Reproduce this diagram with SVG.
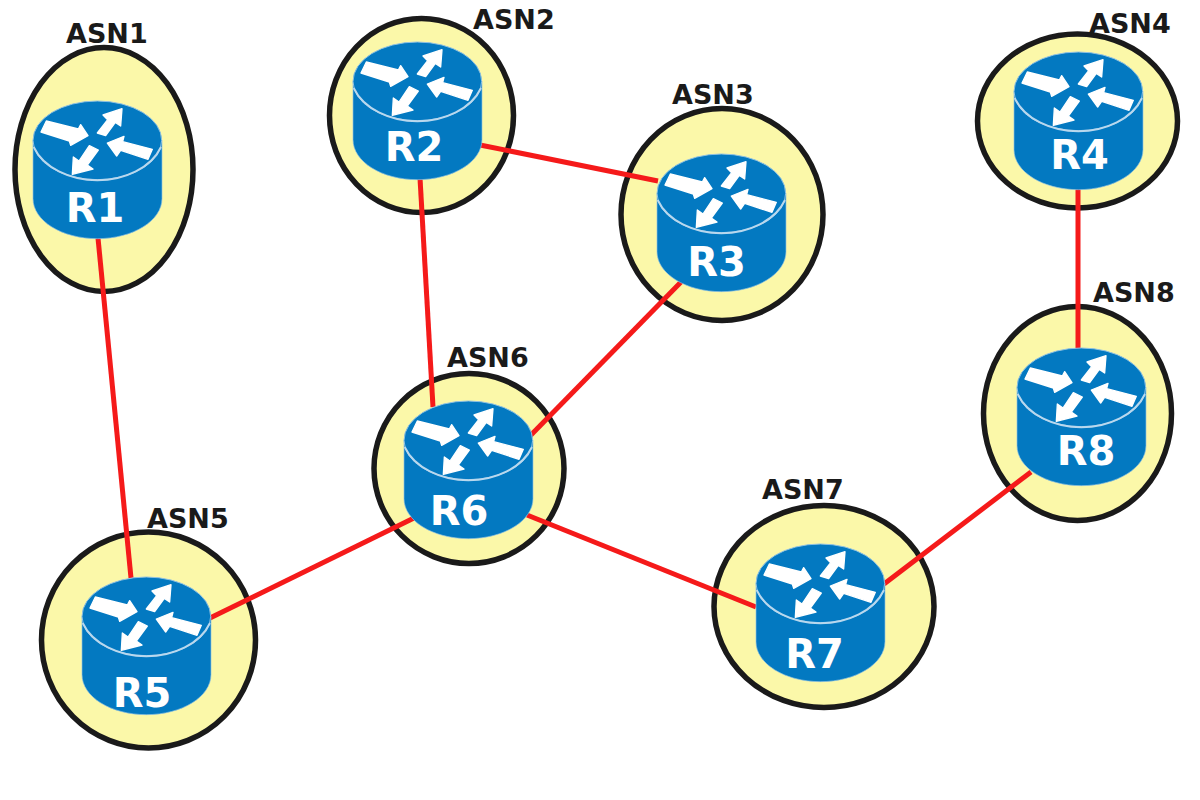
<svg xmlns="http://www.w3.org/2000/svg" xmlns:xlink="http://www.w3.org/1999/xlink" width="1200" height="800" viewBox="0 0 1200 800">
<style>
.as{fill:#fbf8a9;stroke:#1a1a1a;stroke-width:5.500}
.link{stroke:#f51a1a;stroke-width:5;fill:none}
.asn{font-family:"DejaVu Sans",sans-serif;font-weight:bold;font-size:27px;fill:#1a1a1a}
.r{font-family:"DejaVu Sans",sans-serif;font-weight:bold;font-size:40px;fill:#fff;text-anchor:middle}
</style>
<defs>
<g id="router" transform="scale(.33333) translate(-69,-62)">
<path d="M69 180V355C69 421 155 475 262 475S456 421 456 355V180Z" fill="#0379c1" stroke="#8fc1e2" stroke-width="2"/>
<ellipse cx="262" cy="180" rx="193" ry="118" fill="#0379c1" stroke="#8fc1e2" stroke-width="3"/>
<path d="M71 200C100 262 180 300 262 300S424 262 453 200" fill="none" stroke="#b9d8ee" stroke-width="6"/>
<g fill="#fff" stroke="#fff" stroke-width="4" stroke-linejoin="round">
<polygon points="109,122 205,146 212,133 234,166 182,195 178,182 93,155"/>
<polygon points="262,158 293,118 279,104 336,85 332,137 316,126 287,166"/>
<polygon points="292,188 342,168 338,184 427,207 414,237 332,210 320,227"/>
<polygon points="187,282 190,230 207,242 238,196 265,209 232,254 249,266"/>
</g>
</g>
</defs>
<g id="n1e"><ellipse class="as" cx="104" cy="169.500" rx="89" ry="122"/></g>
<g id="n2e"><ellipse class="as" cx="421.500" cy="115.500" rx="92" ry="97"/></g>
<g id="n3e"><ellipse class="as" cx="722" cy="214.500" rx="101" ry="106"/></g>
<g id="n4e"><ellipse class="as" cx="1077.500" cy="121" rx="100" ry="87"/></g>
<g id="n5e"><ellipse class="as" cx="148.500" cy="640" rx="107" ry="108"/></g>
<g id="n6e"><ellipse class="as" cx="469" cy="468.500" rx="95" ry="95"/></g>
<g id="n7e"><ellipse class="as" cx="824" cy="606.500" rx="110" ry="101"/></g>
<g id="n8e"><ellipse class="as" cx="1077.500" cy="413.500" rx="94" ry="107"/></g>
<g id="connectors">
<line class="link" x1="98" y1="238" x2="131" y2="578"/>
<line class="link" x1="480" y1="145" x2="658" y2="181"/>
<line class="link" x1="420" y1="178" x2="433" y2="407"/>
<line class="link" x1="682" y1="281" x2="530" y2="436"/>
<line class="link" x1="1078" y1="188" x2="1078" y2="350"/>
<line class="link" x1="210" y1="618" x2="414" y2="518"/>
<line class="link" x1="527" y1="515" x2="756" y2="607"/>
<line class="link" x1="884" y1="584" x2="1031" y2="472"/>
</g>
<g id="R1"><use xlink:href="#router" href="#router" x="33" y="101"/><text class="r" x="95" y="222">R1</text><text class="asn" x="66" y="43">ASN1</text></g>
<g id="R2"><use xlink:href="#router" href="#router" x="353" y="42"/><text class="r" x="414" y="161">R2</text><text class="asn" x="473" y="29">ASN2</text></g>
<g id="R3"><use xlink:href="#router" href="#router" x="657" y="154"/><text class="r" x="716.500" y="276">R3</text><text class="asn" x="672" y="104">ASN3</text></g>
<g id="R4"><use xlink:href="#router" href="#router" x="1014" y="52"/><text class="r" x="1079.500" y="169">R4</text><text class="asn" x="1089" y="33">ASN4</text></g>
<g id="R5"><use xlink:href="#router" href="#router" x="82" y="577"/><text class="r" x="142" y="707">R5</text><text class="asn" x="147" y="528">ASN5</text></g>
<g id="R6"><use xlink:href="#router" href="#router" x="404" y="401"/><text class="r" x="459" y="525">R6</text><text class="asn" x="447" y="367">ASN6</text></g>
<g id="R7"><use xlink:href="#router" href="#router" x="756" y="544"/><text class="r" x="814.500" y="668">R7</text><text class="asn" x="762" y="499">ASN7</text></g>
<g id="R8"><use xlink:href="#router" href="#router" x="1017" y="348"/><text class="r" x="1086" y="465">R8</text><text class="asn" x="1093" y="302">ASN8</text></g>
</svg>
